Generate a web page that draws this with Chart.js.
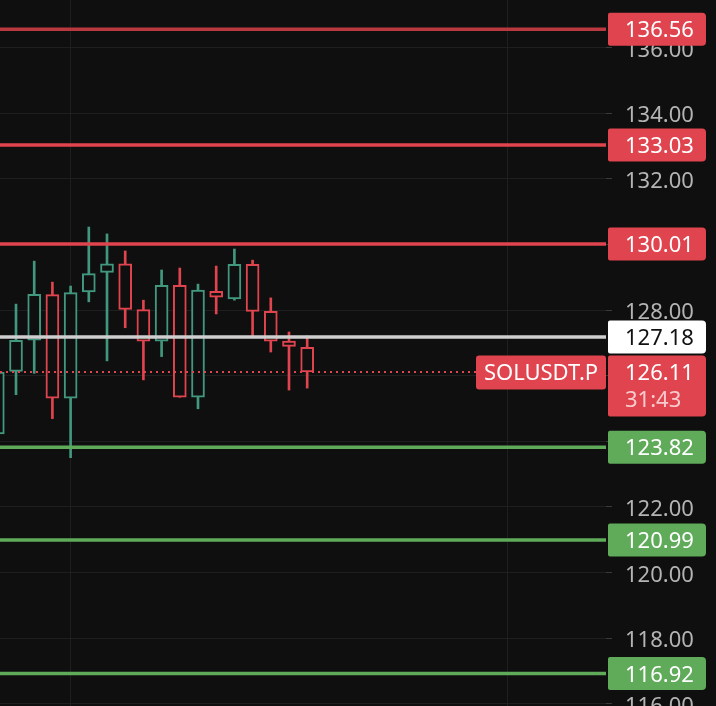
<!DOCTYPE html>
<html>
<head>
<meta charset="utf-8">
<script src="https://cdn.jsdelivr.net/npm/chart.js@4.4.1/dist/chart.umd.min.js"></script>
<style>
  html, body { margin: 0; padding: 0; background: #0f0f0f; overflow: hidden; }
  #wrap { width: 716px; height: 706px; }
</style>
</head>
<body>
<div id="wrap"><canvas id="chart"></canvas></div>
<script>
// candle data (hourly), index along the time axis
const candleIdx = [0, 1, 2, 3, 4, 5, 6, 7, 8, 9, 10, 11, 12, 13, 14, 15, 16, 17];
const opens  = [124.22, 126.13, 127.08, 128.47, 125.31, 128.55, 129.15, 129.41, 128.01, 127.05, 128.75, 125.34, 128.57, 128.34, 129.39, 127.96, 127.05, 126.86];
const highs  = [126.20, 128.18, 129.49, 128.85, 128.73, 130.53, 130.32, 129.80, 128.30, 129.22, 129.28, 128.79, 129.34, 129.86, 129.52, 128.37, 127.33, 127.21];
const lows   = [124.10, 125.42, 126.07, 124.69, 123.50, 128.25, 126.45, 127.46, 125.87, 126.58, 125.34, 124.99, 127.88, 128.30, 127.19, 126.72, 125.56, 125.62];
const closes = [126.11, 127.08, 128.48, 125.31, 128.53, 129.11, 129.41, 128.02, 127.05, 128.75, 125.34, 128.61, 128.39, 129.39, 127.96, 127.05, 126.89, 126.11];

// horizontal levels
const resistance = [136.56, 133.03, 130.01];
const support = [123.82, 120.99, 116.92];
const pivot = 127.18;
const lastPrice = 126.11;
const symbol = "SOLUSDT.P";
const countdown = "31:43";

// axes
const priceTicks = [116, 118, 120, 122, 124, 126, 128, 130, 132, 134, 136];
const dayTicks = [4, 28];
const xMin = 0.12, xMax = 33.42;
const yMin = 115.93, yMax = 137.45;

const UP = "#42977f";
const DOWN = "#e0444e";
const RED = "#e0444e";
const GREEN = "#5fab5a";
const BG = "#0f0f0f";
const FONT = "'Noto Sans', sans-serif";

const candleColors = candleIdx.map((_, i) => closes[i] >= opens[i] ? UP : DOWN);

const levelLine = (v, color, width, dash) => ({
  type: "line",
  data: [{ x: xMin, y: v }, { x: xMax, y: v }],
  borderColor: color,
  borderWidth: width,
  borderDash: dash || [],
  pointRadius: 0,
  order: 0,
});

const datasets = [
  {
    type: "bar",
    data: candleIdx.map((x, i) => ({ x, y: [lows[i], highs[i]] })),
    backgroundColor: candleColors,
    borderWidth: 0,
    barThickness: 2,
    grouped: false,
    order: 3,
  },
  {
    type: "bar",
    data: candleIdx.map((x, i) => ({ x, y: [opens[i], closes[i]] })),
    backgroundColor: BG,
    borderColor: candleColors,
    borderWidth: 2,
    borderSkipped: false,
    barThickness: 13,
    grouped: false,
    order: 2,
  },
  ...resistance.map((v, i) => levelLine(v, i === 0 ? "#b9393f" : RED, 3.5)),
  ...support.map((v) => levelLine(v, GREEN, 3.5)),
  levelLine(pivot, "#cfcfcf", 3.5),
  levelLine(lastPrice, RED, 2, [2, 4]),
];

function box(ctx, x, y, w, h, r, color) {
  ctx.fillStyle = color;
  ctx.beginPath();
  ctx.roundRect(x, y, w, h, r);
  ctx.fill();
}

const priceLabels = {
  id: "priceLabels",
  afterDraw(chart) {
    const { ctx } = chart;
    const ys = chart.scales.y;
    ctx.save();
    ctx.font = "22px " + FONT;
    ctx.textBaseline = "middle";
    ctx.textAlign = "left";
    const tag = (v, bg, fg) => {
      const py = ys.getPixelForValue(v);
      box(ctx, 608, py - 16.5, 98, 33, [2, 4, 4, 2], bg);
      ctx.fillStyle = fg;
      ctx.fillText(v.toFixed(2), 625, py + 2);
    };
    resistance.forEach((v) => tag(v, RED, "#ffffff"));
    support.forEach((v) => tag(v, GREEN, "#ffffff"));
    tag(pivot, "#ffffff", "#111111");

    // last price tag with countdown
    const py = ys.getPixelForValue(lastPrice);
    box(ctx, 608, py - 16.5, 98, 61, [2, 4, 4, 2], RED);
    ctx.fillStyle = "#ffffff";
    ctx.fillText(lastPrice.toFixed(2), 625, py + 2);
    ctx.fillStyle = "rgba(255,255,255,0.72)";
    ctx.fillText(countdown, 625, py + 29);

    // symbol tag
    box(ctx, 476, py - 16.5, 130, 34, 3, RED);
    ctx.fillStyle = "#ffffff";
    ctx.textAlign = "center";
    ctx.fillText(symbol, 541, py + 2);
    ctx.restore();
  },
};

new Chart(document.getElementById("chart"), {
  type: "bar",
  data: { datasets },
  options: {
    responsive: true,
    maintainAspectRatio: false,
    animation: false,
    layout: { padding: 0 },
    plugins: { legend: { display: false }, tooltip: { enabled: false } },
    scales: {
      x: {
        type: "linear",
        min: xMin,
        max: xMax,
        offset: false,
        afterBuildTicks: (axis) => { axis.ticks = dayTicks.map((v) => ({ value: v })); },
        afterFit: (axis) => { axis.height = 0; axis.paddingLeft = 0; axis.paddingRight = 0; },
        ticks: { display: false },
        border: { display: false },
        grid: { color: "#1f1f1f", lineWidth: 1, drawTicks: false, offset: false },
      },
      y: {
        position: "right",
        min: yMin,
        max: yMax,
        afterBuildTicks: (axis) => { axis.ticks = priceTicks.map((v) => ({ value: v })); },
        afterFit: (axis) => { axis.width = 110; axis.paddingTop = 0; axis.paddingBottom = 0; },
        ticks: {
          color: "#b4b4b4",
          font: { family: FONT, size: 22 },
          padding: 13,
          labelOffset: 3,
          callback: (v) => v.toFixed(2),
        },
        border: { display: false },
        grid: { color: "#1f1f1f", lineWidth: 1, tickLength: 6, tickColor: "#3a3a3a" },
      },
    },
  },
  plugins: [priceLabels],
});
</script>
</body>
</html>
